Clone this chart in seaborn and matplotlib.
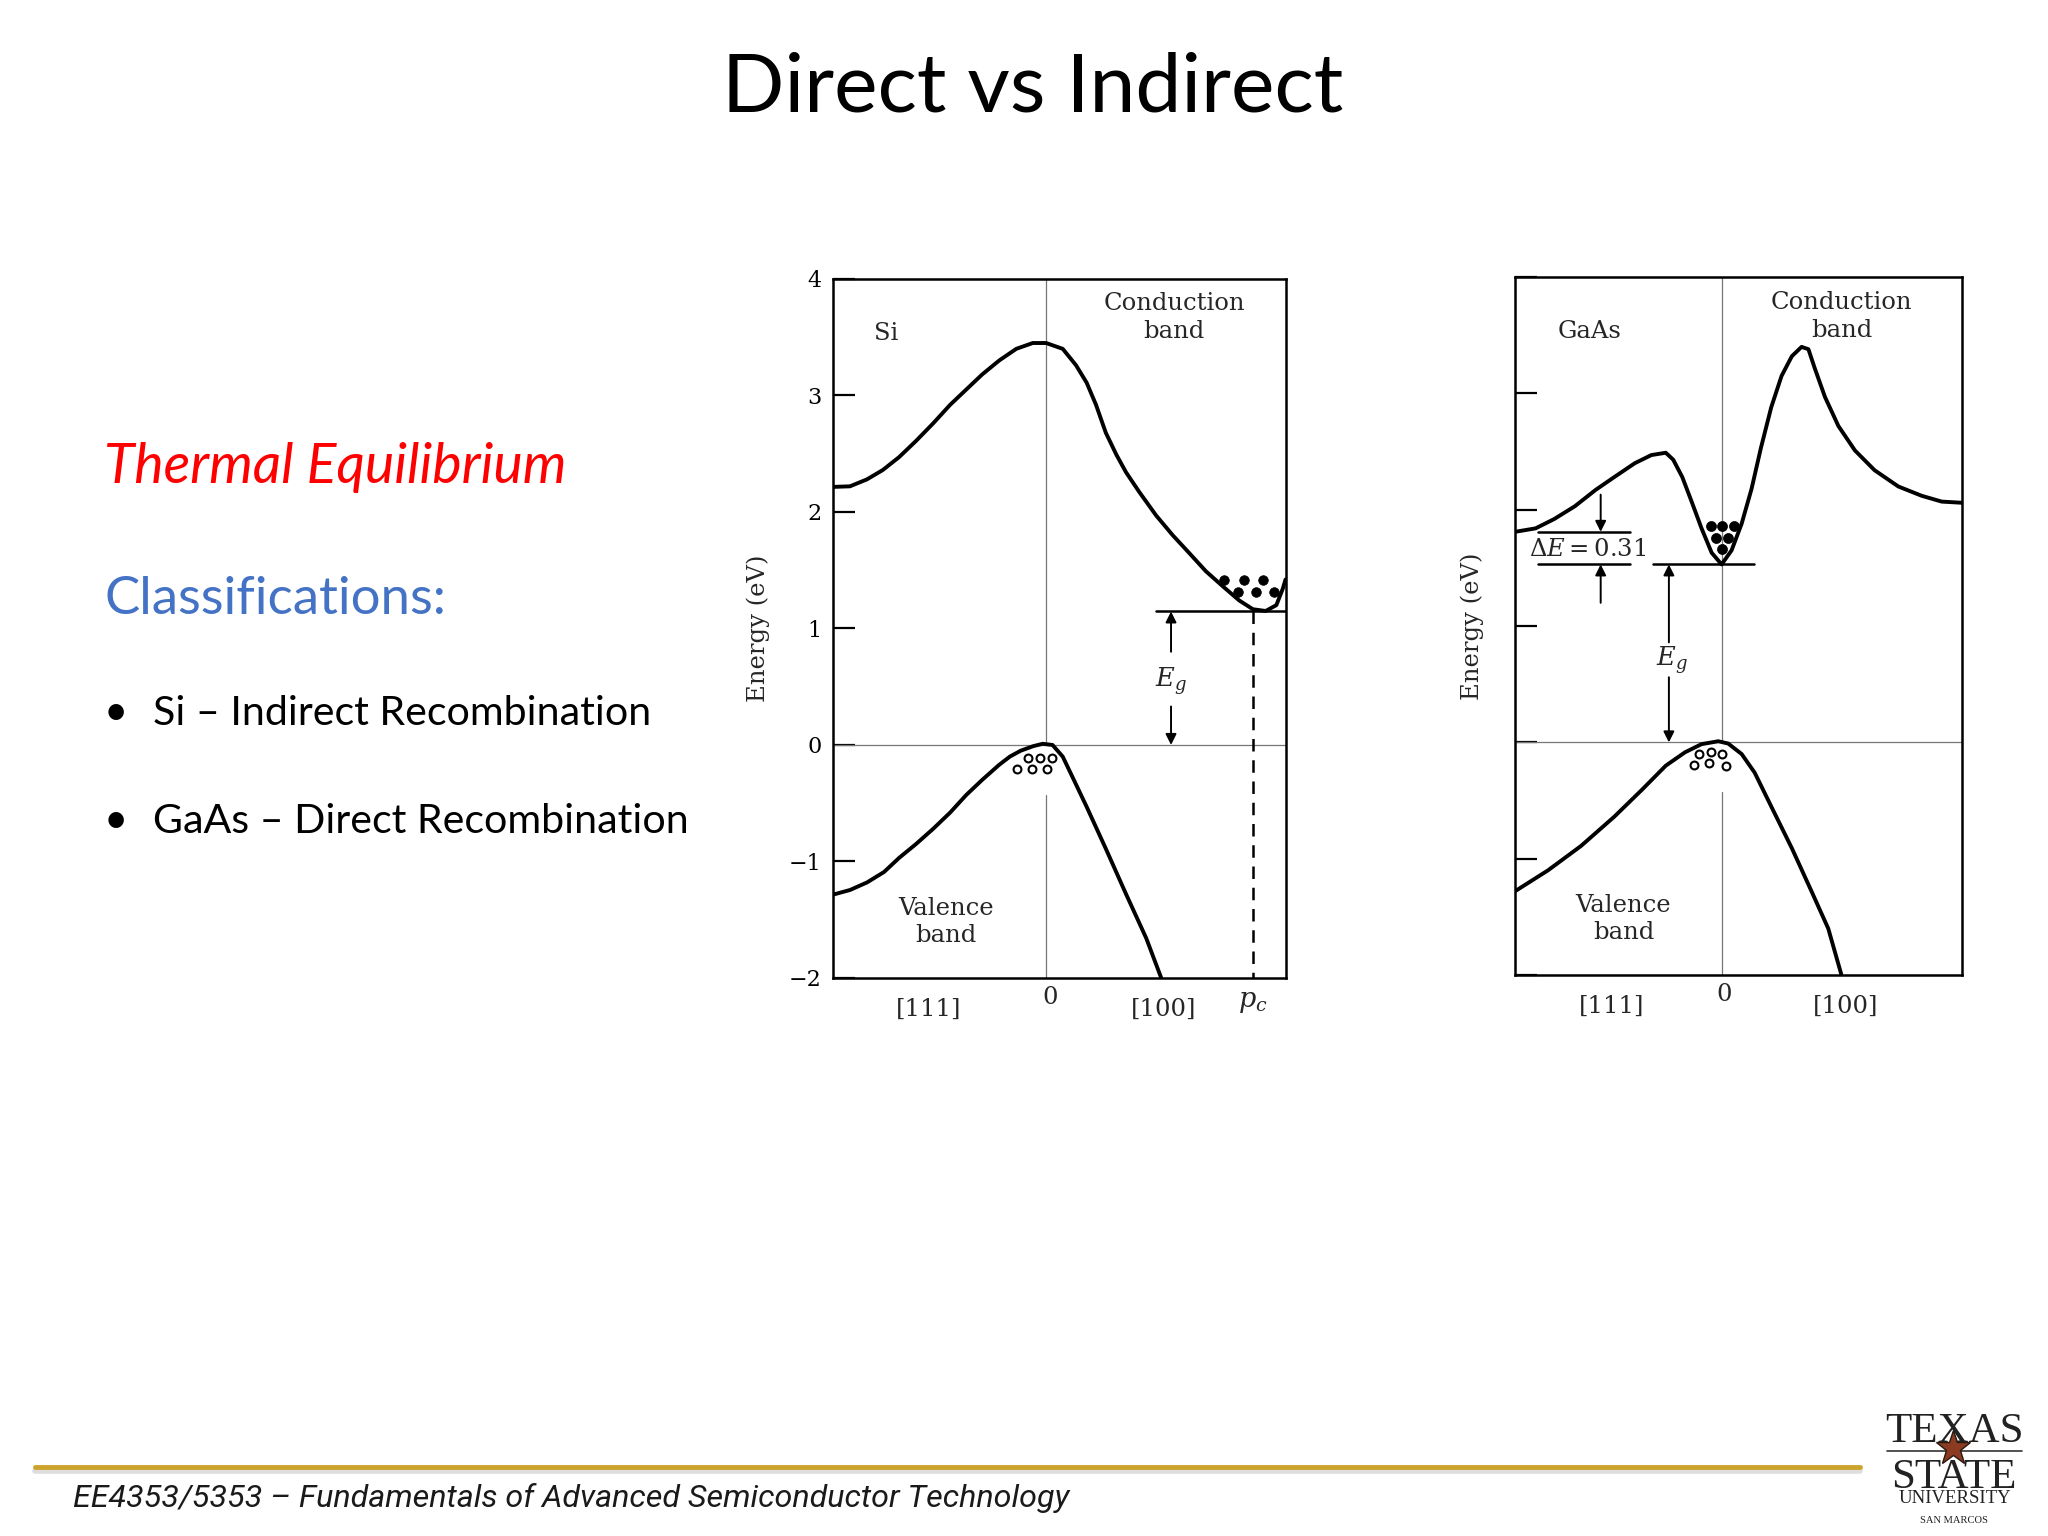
import matplotlib
matplotlib.use("Agg")
import matplotlib.pyplot as plt
from matplotlib.lines import Line2D
import seaborn as sns

# ---------------- data ----------------
# Si band structure (k in reduced units: [111] to the left, [100] to the right)
si_cb_k = [-1.00, -0.92, -0.84, -0.766, -0.69, -0.61, -0.53, -0.45, -0.375, -0.30, -0.22,
           -0.14, -0.0625, 0.00, 0.078, 0.14, 0.19, 0.234, 0.28, 0.33, 0.375, 0.4375,
           0.516, 0.594, 0.67, 0.75, 0.83, 0.906, 0.97, 1.03, 1.08, 1.11, 1.123]
si_cb_e = [2.215, 2.22, 2.28, 2.36, 2.47, 2.61, 2.76, 2.92, 3.05, 3.18, 3.30,
           3.40, 3.45, 3.45, 3.40, 3.26, 3.11, 2.92, 2.68, 2.49, 2.34, 2.17,
           1.97, 1.80, 1.65, 1.49, 1.36, 1.24, 1.165, 1.15, 1.20, 1.34, 1.42]
si_vb_k = [-1.00, -0.92, -0.84, -0.76, -0.69, -0.61, -0.53, -0.45, -0.375, -0.30, -0.22,
           -0.17, -0.12, -0.06, -0.016, 0.03, 0.078, 0.125, 0.19, 0.28, 0.375, 0.47, 0.54]
si_vb_e = [-1.285, -1.245, -1.18, -1.09, -0.97, -0.85, -0.72, -0.58, -0.43, -0.30, -0.17,
           -0.10, -0.05, -0.01, 0.01, 0.00, -0.10, -0.28, -0.53, -0.89, -1.28, -1.66, -2.00]
si_elec_k = [0.836, 0.930, 1.016, 0.898, 0.984, 1.070]
si_elec_e = [1.42, 1.42, 1.42, 1.31, 1.31, 1.31]
si_hole_k = [-0.086, -0.028, 0.027, -0.136, -0.066, 0.005]
si_hole_e = [-0.11, -0.11, -0.11, -0.21, -0.21, -0.21]
si_eg = 1.146
si_pc = 0.97

# GaAs band structure
gaas_cb_k = [-1.00, -0.90, -0.81, -0.71, -0.61, -0.52, -0.42, -0.34, -0.27, -0.234, -0.19,
             -0.145, -0.097, -0.048, 0.00, 0.048, 0.097, 0.145, 0.19, 0.24, 0.29, 0.34,
             0.387, 0.42, 0.45, 0.50, 0.565, 0.645, 0.74, 0.855, 0.968, 1.065, 1.163]
gaas_cb_e = [1.81, 1.84, 1.92, 2.03, 2.17, 2.28, 2.40, 2.47, 2.49, 2.43, 2.28,
             2.07, 1.84, 1.63, 1.53, 1.65, 1.88, 2.18, 2.53, 2.88, 3.15, 3.32,
             3.40, 3.38, 3.22, 2.97, 2.72, 2.51, 2.34, 2.20, 2.12, 2.07, 2.06]
gaas_vb_k = [-1.00, -0.84, -0.68, -0.52, -0.387, -0.27, -0.177, -0.097, -0.016, 0.032,
             0.097, 0.16, 0.24, 0.34, 0.435, 0.516, 0.58]
gaas_vb_e = [-1.28, -1.10, -0.89, -0.64, -0.41, -0.20, -0.085, -0.015, 0.01, -0.01,
             -0.10, -0.26, -0.55, -0.91, -1.28, -1.60, -2.00]
gaas_elec_k = [-0.052, 0.003, 0.058, -0.027, 0.029, 0.000]
gaas_elec_e = [1.86, 1.86, 1.86, 1.76, 1.76, 1.66]
gaas_hole_k = [-0.108, -0.052, 0.003, -0.132, -0.061, 0.019]
gaas_hole_e = [-0.10, -0.08, -0.10, -0.19, -0.18, -0.20]
gaas_eg = 1.53
gaas_sat = 1.81          # L-valley level (Eg + 0.31 on the drawing)

y_ticks = [-2, -1, 0, 1, 2, 3, 4]
y_tick_labels = ["\u22122", "\u22121", "0", "1", "2", "3", "4"]
k_labels = ["[111]", "0", "[100]"]

title_text = "Direct vs Indirect"
subtitle_red = "Thermal Equilibrium"
subtitle_blue = "Classifications:"
bullets = ["Si \u2013 Indirect Recombination", "GaAs \u2013 Direct Recombination"]
footer = "EE4353/5353 \u2013 Fundamentals of Advanced Semiconductor Technology"

# ---------------- style ----------------
sns.set_theme(style="white")
plt.rcParams['font.family'] = ['DejaVu Serif', 'DejaVu Sans']
plt.rcParams['mathtext.fontset'] = 'dejavuserif'

fig = plt.figure(figsize=(20.48, 15.36), dpi=100)
fig.patch.set_facecolor("white")

LW = 2.8
FS = 17.5
ax_si = fig.add_axes([0.4067, 0.3633, 0.2212, 0.4551])
ax_ga = fig.add_axes([0.7397, 0.3652, 0.2183, 0.4544])


def base_panel(ax, xmax, labels_on):
    ax.set_xlim(-1.0, xmax)
    ax.set_ylim(-2, 4)
    for sp in ax.spines.values():
        sp.set_visible(True)
        sp.set_color("black")
        sp.set_linewidth(1.8)
    ax.set_facecolor("white")
    ax.set_xticks([])
    ax.set_yticks(y_ticks)
    ax.set_yticklabels(y_tick_labels if labels_on else [""] * len(y_ticks))
    ax.tick_params(axis="y", direction="in", length=16, width=1.6, labelsize=16,
                   pad=8, left=True, colors="black")
    # thin reference lines at k = 0 and E = 0
    ax.axhline(0, color="#777777", lw=0.9, zorder=1)
    ax.plot([0, 0], [0, 4], color="#777777", lw=0.9, zorder=1)
    ax.plot([0, 0], [-2, -0.43], color="#777777", lw=0.9, zorder=1)


def arrow(ax, x, y_from, y_to):
    ax.annotate("", xy=(x, y_to), xytext=(x, y_from),
                arrowprops=dict(arrowstyle="-|>", color="black", lw=1.4,
                                mutation_scale=16, shrinkA=0, shrinkB=0))


def bands(ax, cb_k, cb_e, vb_k, vb_e, el_k, el_e, h_k, h_e, dot_s):
    sns.lineplot(x=cb_k, y=cb_e, ax=ax, color="black", lw=LW, sort=False,
                 estimator=None, zorder=3)
    sns.lineplot(x=vb_k, y=vb_e, ax=ax, color="black", lw=LW, sort=False,
                 estimator=None, zorder=3)
    sns.scatterplot(x=el_k, y=el_e, ax=ax, s=dot_s, color="black", edgecolor="black",
                    linewidth=0.5, zorder=4)
    sns.scatterplot(x=h_k, y=h_e, ax=ax, s=32, color="white", edgecolor="black",
                    linewidth=1.5, zorder=4)


# ---- Si panel ----
base_panel(ax_si, 1.125, True)
bands(ax_si, si_cb_k, si_cb_e, si_vb_k, si_vb_e, si_elec_k, si_elec_e,
      si_hole_k, si_hole_e, 48)
ax_si.plot([0.516, 1.125], [si_eg, si_eg], color="black", lw=1.8, zorder=3)
ax_si.plot([si_pc, si_pc], [si_eg, -2], color="black", lw=1.8, ls=(0, (5, 3.5)), zorder=3)
arrow(ax_si, 0.586, 0.80, si_eg)
arrow(ax_si, 0.586, 0.33, 0.0)
ax_si.text(0.586, 0.55, r"$E_g$", ha="center", va="center", fontsize=FS + 1)
ax_si.text(-0.75, 3.53, "Si", ha="center", va="center", fontsize=FS)
ax_si.text(0.60, 3.67, "Conduction\nband", ha="center", va="center", fontsize=FS,
           linespacing=1.25)
ax_si.text(-0.47, -1.52, "Valence\nband", ha="center", va="center", fontsize=FS,
           linespacing=1.25)
xt = ax_si.get_xaxis_transform()
ax_si.text(-0.55, -0.045, k_labels[0], transform=xt, ha="center", va="center", fontsize=FS)
ax_si.text(0.02, -0.028, k_labels[1], transform=xt, ha="center", va="center", fontsize=FS)
ax_si.text(0.55, -0.045, k_labels[2], transform=xt, ha="center", va="center", fontsize=FS)
ax_si.text(0.97, -0.034, r"$p_c$", transform=xt, ha="center", va="center", fontsize=FS + 2)
ax_si.set_xlabel("")
ax_si.set_ylabel("Energy (eV)", fontsize=FS, labelpad=14)

# ---- GaAs panel ----
base_panel(ax_ga, 1.163, False)
bands(ax_ga, gaas_cb_k, gaas_cb_e, gaas_vb_k, gaas_vb_e, gaas_elec_k, gaas_elec_e,
      gaas_hole_k, gaas_hole_e, 52)
ax_ga.plot([-0.33, 0.158], [gaas_eg, gaas_eg], color="black", lw=1.8, zorder=3)
ax_ga.plot([-0.887, -0.444], [gaas_sat, gaas_sat], color="black", lw=1.8, zorder=3)
ax_ga.plot([-0.887, -0.444], [gaas_eg, gaas_eg], color="black", lw=1.8, zorder=3)
arrow(ax_ga, -0.585, 2.13, gaas_sat)
arrow(ax_ga, -0.585, 1.20, gaas_eg)
arrow(ax_ga, -0.255, 0.86, gaas_eg)
arrow(ax_ga, -0.255, 0.56, 0.0)
ax_ga.text(-0.65, 1.66, r"$\Delta E = 0.31$", ha="center", va="center", fontsize=FS,
           bbox=dict(facecolor="white", edgecolor="none", pad=0.5))
ax_ga.text(-0.24, 0.71, r"$E_g$", ha="center", va="center", fontsize=FS + 1)
ax_ga.text(-0.64, 3.53, "GaAs", ha="center", va="center", fontsize=FS)
ax_ga.text(0.58, 3.66, "Conduction\nband", ha="center", va="center", fontsize=FS,
           linespacing=1.25)
ax_ga.text(-0.475, -1.52, "Valence\nband", ha="center", va="center", fontsize=FS,
           linespacing=1.25)
xt = ax_ga.get_xaxis_transform()
ax_ga.text(-0.53, -0.045, k_labels[0], transform=xt, ha="center", va="center", fontsize=FS)
ax_ga.text(0.01, -0.028, k_labels[1], transform=xt, ha="center", va="center", fontsize=FS)
ax_ga.text(0.60, -0.045, k_labels[2], transform=xt, ha="center", va="center", fontsize=FS)
ax_ga.set_xlabel("")
ax_ga.set_ylabel("Energy (eV)", fontsize=FS, labelpad=14)

# ---------------- slide text ----------------
sans = ["Lato", "DejaVu Sans"]
fig.text(0.504, 0.9277, title_text, ha="center", va="baseline", fontsize=59.2,
         family=sans, color="black")
fig.text(0.051, 0.6855, subtitle_red, ha="left", va="baseline", fontsize=40,
         family=sans, style="italic", color="#FF0000")
fig.text(0.051, 0.6003, subtitle_blue, ha="left", va="baseline", fontsize=38,
         family=sans, color="#4472C4")
for yb, txt in zip([0.528, 0.4574], bullets):
    fig.text(0.0505, yb, "\u2022", ha="left", va="baseline", fontsize=30,
             family=sans, color="black")
    fig.text(0.0747, yb, txt, ha="left", va="baseline", fontsize=29.6,
             family=sans, color="black")

# footer rule and caption
fig.add_artist(Line2D([0.017, 0.908], [1 - 1471 / 1536] * 2, transform=fig.transFigure,
                      color="#DDDDDD", lw=4))
fig.add_artist(Line2D([0.017, 0.908], [1 - 1467 / 1536] * 2, transform=fig.transFigure,
                      color="#CCA42C", lw=3.5))
fig.text(0.0356, 0.019, footer, ha="left", va="baseline", fontsize=23.2,
         family=["Liberation Sans Narrow", "Roboto", "DejaVu Sans"], style="italic",
         color="#1A1A1A")

# logo
serif = ["Liberation Serif", "DejaVu Serif"]
fig.text(0.9545, 1 - 1442 / 1536, "TEXAS", ha="center", va="baseline", fontsize=31,
         family=serif, color="#222222")
fig.add_artist(Line2D([0.9214, 0.9873], [1 - 1451 / 1536] * 2, transform=fig.transFigure,
                      color="#333333", lw=1.2))
fig.text(0.9540, 1 - 1488 / 1536, "STATE", ha="center", va="baseline", fontsize=31,
         family=serif, color="#222222")
fig.add_artist(Line2D([0.9536], [1 - 1448 / 1536], transform=fig.transFigure,
                      marker="*", markersize=26, markerfacecolor="#8A3B22",
                      markeredgecolor="#2A1A10", markeredgewidth=1.0, ls="none"))
fig.text(0.9543, 1 - 1503 / 1536, "UNIVERSITY", ha="center", va="baseline", fontsize=13.5,
         family=serif, color="#222222")
fig.text(0.9543, 1 - 1523 / 1536, "SAN MARCOS", ha="center", va="baseline", fontsize=7.6,
         family=serif, color="#222222")

fig.savefig("out.png", dpi=100, facecolor="white")
